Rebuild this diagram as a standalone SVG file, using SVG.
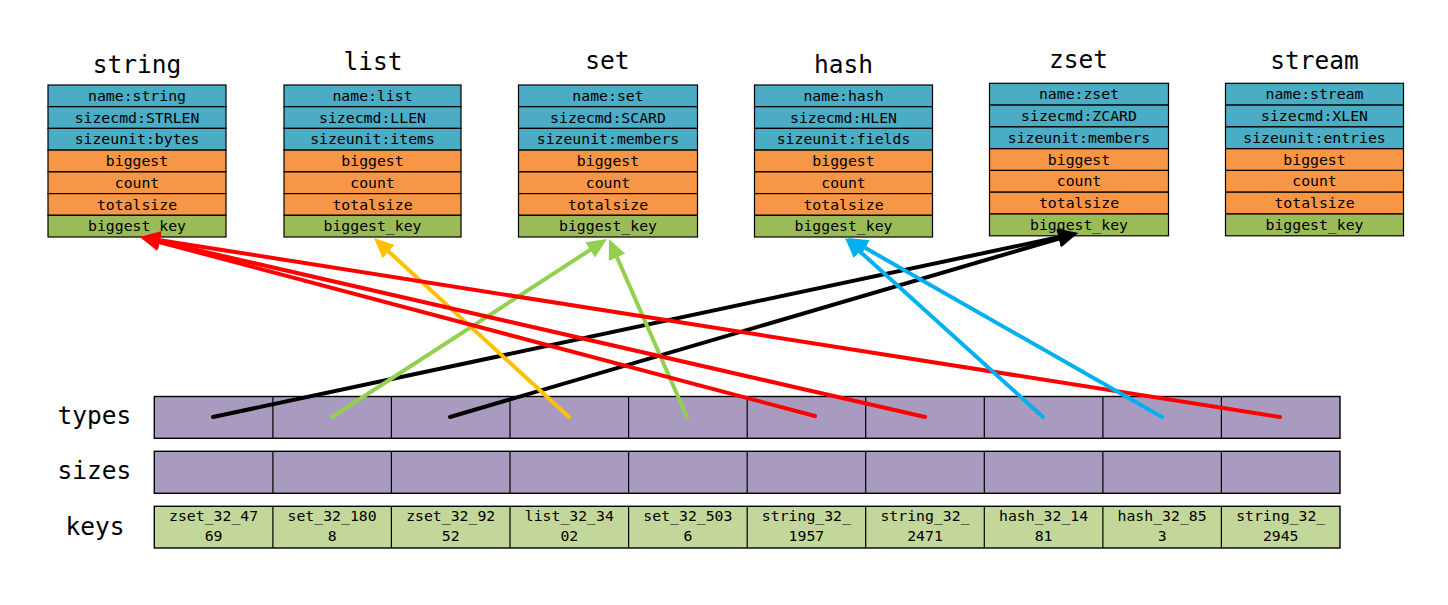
<svg xmlns="http://www.w3.org/2000/svg" width="1448" height="605" viewBox="0 0 1448 605">
<style>
.title{font-family:"DejaVu Sans Mono","Liberation Mono",monospace;font-size:24.5px;fill:#000;text-anchor:middle}
.t{font-family:"DejaVu Sans Mono","Liberation Mono",monospace;font-size:14.8px;fill:#000;text-anchor:middle}
.blue{fill:#4BACC6;stroke:#000;stroke-width:1.2}
.org{fill:#F79646;stroke:#000;stroke-width:1.2}
.grn{fill:#9BBB59;stroke:#000;stroke-width:1.2}
.pur{fill:#A99BBF;stroke:#000;stroke-width:1.4}
.key{fill:#C4D79B;stroke:#000;stroke-width:1.4}
.div{stroke:#000;stroke-width:1.2}
.c{fill:none;stroke-width:4;stroke-linecap:round}
</style>
<defs>
<marker id="mk" viewBox="0 0 20 18" markerWidth="20" markerHeight="18" refX="11" refY="9" orient="auto" markerUnits="userSpaceOnUse"><path d="M0,0 L20,9 L0,18 z" fill="#000"/></marker>
<marker id="mr" viewBox="0 0 20 18" markerWidth="20" markerHeight="18" refX="11" refY="9" orient="auto" markerUnits="userSpaceOnUse"><path d="M0,0 L20,9 L0,18 z" fill="#FF0000"/></marker>
<marker id="mg" viewBox="0 0 20 18" markerWidth="20" markerHeight="18" refX="11" refY="9" orient="auto" markerUnits="userSpaceOnUse"><path d="M0,0 L20,9 L0,18 z" fill="#92D050"/></marker>
<marker id="my" viewBox="0 0 20 18" markerWidth="20" markerHeight="18" refX="11" refY="9" orient="auto" markerUnits="userSpaceOnUse"><path d="M0,0 L20,9 L0,18 z" fill="#FFC000"/></marker>
<marker id="mb" viewBox="0 0 20 18" markerWidth="20" markerHeight="18" refX="11" refY="9" orient="auto" markerUnits="userSpaceOnUse"><path d="M0,0 L20,9 L0,18 z" fill="#00B0F0"/></marker>
</defs>
<rect width="1448" height="605" fill="#fff"/>

<g id="table-string" transform="translate(48,85)">
<text class="title" x="89" y="-12">string</text>
<rect class="blue" x="0" y="0" width="178" height="21.7"/>
<rect class="blue" x="0" y="21.7" width="178" height="21.7"/>
<rect class="blue" x="0" y="43.4" width="178" height="21.7"/>
<rect class="org" x="0" y="65.1" width="178" height="21.7"/>
<rect class="org" x="0" y="86.9" width="178" height="21.7"/>
<rect class="org" x="0" y="108.6" width="178" height="21.7"/>
<rect class="grn" x="0" y="130.3" width="178" height="21.7"/>
<text class="t" x="89" y="16">name:string</text>
<text class="t" x="89" y="37.7">sizecmd:STRLEN</text>
<text class="t" x="89" y="59.4">sizeunit:bytes</text>
<text class="t" x="89" y="81.1">biggest</text>
<text class="t" x="89" y="102.9">count</text>
<text class="t" x="89" y="124.6">totalsize</text>
<text class="t" x="89" y="146.3">biggest_key</text>
</g>

<g id="table-list" transform="translate(284,85)">
<text class="title" x="89" y="-15">list</text>
<rect class="blue" x="0" y="0" width="177" height="21.7"/>
<rect class="blue" x="0" y="21.7" width="177" height="21.7"/>
<rect class="blue" x="0" y="43.4" width="177" height="21.7"/>
<rect class="org" x="0" y="65.1" width="177" height="21.7"/>
<rect class="org" x="0" y="86.9" width="177" height="21.7"/>
<rect class="org" x="0" y="108.6" width="177" height="21.7"/>
<rect class="grn" x="0" y="130.3" width="177" height="21.7"/>
<text class="t" x="88.5" y="16">name:list</text>
<text class="t" x="88.5" y="37.7">sizecmd:LLEN</text>
<text class="t" x="88.5" y="59.4">sizeunit:items</text>
<text class="t" x="88.5" y="81.1">biggest</text>
<text class="t" x="88.5" y="102.9">count</text>
<text class="t" x="88.5" y="124.6">totalsize</text>
<text class="t" x="88.5" y="146.3">biggest_key</text>
</g>

<g id="table-set" transform="translate(518.5,85)">
<text class="title" x="89" y="-16">set</text>
<rect class="blue" x="0" y="0" width="179" height="21.7"/>
<rect class="blue" x="0" y="21.7" width="179" height="21.7"/>
<rect class="blue" x="0" y="43.4" width="179" height="21.7"/>
<rect class="org" x="0" y="65.1" width="179" height="21.7"/>
<rect class="org" x="0" y="86.9" width="179" height="21.7"/>
<rect class="org" x="0" y="108.6" width="179" height="21.7"/>
<rect class="grn" x="0" y="130.3" width="179" height="21.7"/>
<text class="t" x="89.5" y="16">name:set</text>
<text class="t" x="89.5" y="37.7">sizecmd:SCARD</text>
<text class="t" x="89.5" y="59.4">sizeunit:members</text>
<text class="t" x="89.5" y="81.1">biggest</text>
<text class="t" x="89.5" y="102.9">count</text>
<text class="t" x="89.5" y="124.6">totalsize</text>
<text class="t" x="89.5" y="146.3">biggest_key</text>
</g>

<g id="table-hash" transform="translate(754.5,85)">
<text class="title" x="89" y="-12">hash</text>
<rect class="blue" x="0" y="0" width="178" height="21.7"/>
<rect class="blue" x="0" y="21.7" width="178" height="21.7"/>
<rect class="blue" x="0" y="43.4" width="178" height="21.7"/>
<rect class="org" x="0" y="65.1" width="178" height="21.7"/>
<rect class="org" x="0" y="86.9" width="178" height="21.7"/>
<rect class="org" x="0" y="108.6" width="178" height="21.7"/>
<rect class="grn" x="0" y="130.3" width="178" height="21.7"/>
<text class="t" x="89" y="16">name:hash</text>
<text class="t" x="89" y="37.7">sizecmd:HLEN</text>
<text class="t" x="89" y="59.4">sizeunit:fields</text>
<text class="t" x="89" y="81.1">biggest</text>
<text class="t" x="89" y="102.9">count</text>
<text class="t" x="89" y="124.6">totalsize</text>
<text class="t" x="89" y="146.3">biggest_key</text>
</g>

<g id="table-zset" transform="translate(989.5,83.3)">
<text class="title" x="89" y="-15">zset</text>
<rect class="blue" x="0" y="0" width="179" height="21.8"/>
<rect class="blue" x="0" y="21.8" width="179" height="21.8"/>
<rect class="blue" x="0" y="43.6" width="179" height="21.8"/>
<rect class="org" x="0" y="65.4" width="179" height="21.8"/>
<rect class="org" x="0" y="87.1" width="179" height="21.8"/>
<rect class="org" x="0" y="108.9" width="179" height="21.8"/>
<rect class="grn" x="0" y="130.7" width="179" height="21.8"/>
<text class="t" x="89.5" y="16">name:zset</text>
<text class="t" x="89.5" y="37.8">sizecmd:ZCARD</text>
<text class="t" x="89.5" y="59.6">sizeunit:members</text>
<text class="t" x="89.5" y="81.4">biggest</text>
<text class="t" x="89.5" y="103.1">count</text>
<text class="t" x="89.5" y="124.9">totalsize</text>
<text class="t" x="89.5" y="146.7">biggest_key</text>
</g>

<g id="table-stream" transform="translate(1225.5,83.3)">
<text class="title" x="89" y="-14">stream</text>
<rect class="blue" x="0" y="0" width="178" height="21.8"/>
<rect class="blue" x="0" y="21.8" width="178" height="21.8"/>
<rect class="blue" x="0" y="43.6" width="178" height="21.8"/>
<rect class="org" x="0" y="65.4" width="178" height="21.8"/>
<rect class="org" x="0" y="87.1" width="178" height="21.8"/>
<rect class="org" x="0" y="108.9" width="178" height="21.8"/>
<rect class="grn" x="0" y="130.7" width="178" height="21.8"/>
<text class="t" x="89" y="16">name:stream</text>
<text class="t" x="89" y="37.8">sizecmd:XLEN</text>
<text class="t" x="89" y="59.6">sizeunit:entries</text>
<text class="t" x="89" y="81.4">biggest</text>
<text class="t" x="89" y="103.1">count</text>
<text class="t" x="89" y="124.9">totalsize</text>
<text class="t" x="89" y="146.7">biggest_key</text>
</g>

<g id="row-types">
<text class="title" x="94.5" y="424">types</text>
<rect class="pur" x="154.3" y="396.5" width="1185.7" height="41.8"/>
<path class="div" d="M272.9,396.5V438.3M391.4,396.5V438.3M510,396.5V438.3M628.6,396.5V438.3M747.2,396.5V438.3M865.7,396.5V438.3M984.3,396.5V438.3M1102.9,396.5V438.3M1221.4,396.5V438.3"/>
</g>

<g id="row-sizes">
<text class="title" x="94.5" y="479">sizes</text>
<rect class="pur" x="154.3" y="451.3" width="1185.7" height="42"/>
<path class="div" d="M272.9,451.3V493.3M391.4,451.3V493.3M510,451.3V493.3M628.6,451.3V493.3M747.2,451.3V493.3M865.7,451.3V493.3M984.3,451.3V493.3M1102.9,451.3V493.3M1221.4,451.3V493.3"/>
</g>

<g id="row-keys">
<text class="title" x="95" y="535">keys</text>
<rect class="key" x="154.3" y="506.3" width="1185.7" height="41.7"/>
<path class="div" d="M272.9,506.3V548M391.4,506.3V548M510,506.3V548M628.6,506.3V548M747.2,506.3V548M865.7,506.3V548M984.3,506.3V548M1102.9,506.3V548M1221.4,506.3V548"/>
<text class="t" x="213.6" y="521">zset_32_47</text><text class="t" x="213.6" y="541">69</text>
<text class="t" x="332.1" y="521">set_32_180</text><text class="t" x="332.1" y="541">8</text>
<text class="t" x="450.7" y="521">zset_32_92</text><text class="t" x="450.7" y="541">52</text>
<text class="t" x="569.3" y="521">list_32_34</text><text class="t" x="569.3" y="541">02</text>
<text class="t" x="687.9" y="521">set_32_503</text><text class="t" x="687.9" y="541">6</text>
<text class="t" x="806.4" y="521">string_32_</text><text class="t" x="806.4" y="541">1957</text>
<text class="t" x="925" y="521">string_32_</text><text class="t" x="925" y="541">2471</text>
<text class="t" x="1043.6" y="521">hash_32_14</text><text class="t" x="1043.6" y="541">81</text>
<text class="t" x="1162.1" y="521">hash_32_85</text><text class="t" x="1162.1" y="541">3</text>
<text class="t" x="1280.7" y="521">string_32_</text><text class="t" x="1280.7" y="541">2945</text>
</g>

<g id="connectors">
<path class="c" stroke="#000" marker-end="url(#mk)" d="M213,417L1069.2,234.9"/>
<path class="c" stroke="#000" marker-end="url(#mk)" d="M450,417L1069.4,235.5"/>
<path class="c" stroke="#92D050" marker-end="url(#mg)" d="M332,417L599.4,243.9"/>
<path class="c" stroke="#92D050" marker-end="url(#mg)" d="M687,417L612.6,247.2"/>
<path class="c" stroke="#FFC000" marker-end="url(#my)" d="M569,417L380.6,244.1"/>
<path class="c" stroke="#FF0000" marker-end="url(#mr)" d="M815,416L148.7,239.3"/>
<path class="c" stroke="#FF0000" marker-end="url(#mr)" d="M925,417L148.8,239"/>
<path class="c" stroke="#FF0000" marker-end="url(#mr)" d="M1280,417L148.9,238.4"/>
<path class="c" stroke="#00B0F0" marker-end="url(#mb)" d="M1043,417L851.7,244"/>
<path class="c" stroke="#00B0F0" marker-end="url(#mb)" d="M1162,417L855.8,242.5"/>
</g>
</svg>
